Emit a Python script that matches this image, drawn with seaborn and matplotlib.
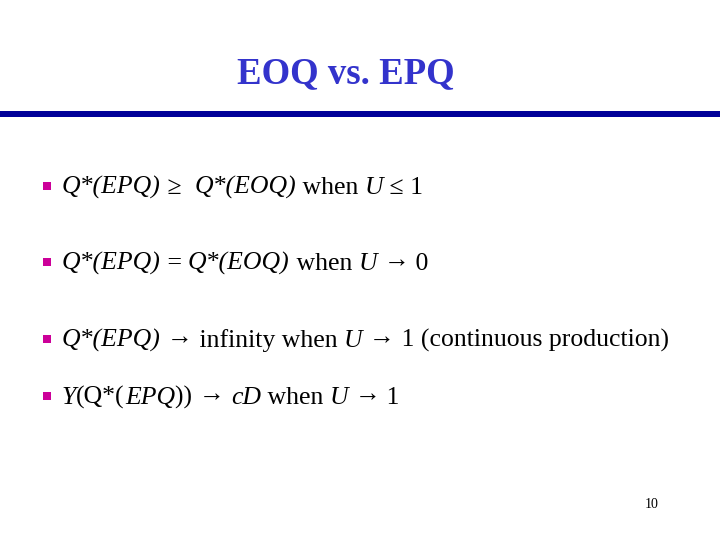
import matplotlib
matplotlib.use("Agg")
import re
import matplotlib.pyplot as plt
import seaborn as sns
from matplotlib.font_manager import FontProperties, findfont, get_font

# ---------------- slide content ----------------
title = "EOQ vs. EPQ"
slide_number = "10"

# each bullet is a list of (text, italic) pieces
bullets = [
    [("Q*(EPQ)", True), (" \u2265  ", False), ("Q*(EOQ)", True), (" when ", False),
     ("U", True), (" \u2264 1", False)],
    [("Q*(EPQ)", True), (" = ", False), ("Q*(EOQ)", True), (" when ", False),
     ("U", True), (" \u2192 0", False)],
    [("Q*(EPQ)", True), (" \u2192 infinity when ", False), ("U", True),
     (" \u2192 1 (continuous production)", False)],
    [("Y", True), ("(Q*(", False), ("EPQ", True), (")) \u2192 ", False), ("cD", True),
     (" when ", False), ("U", True), (" \u2192 1", False)],
]
bullet_baselines = [194, 270, 347, 404]

TITLE_COLOR = "#3333CC"
BAR_COLOR = "#000099"
BULLET_COLOR = "#CC0099"
ARROW = "\u2192"

sns.set_theme(style="white")
plt.rcParams["font.family"] = ["Liberation Serif", "DejaVu Serif"]

fig = plt.figure(figsize=(7.2, 5.4), dpi=100)
ax = fig.add_axes([0, 0, 1, 1])
ax.set_xlim(0, 720)
ax.set_ylim(540, 0)
ax.axis("off")

# title and rule under it
ax.text(346, 74, title, ha="center", va="center", fontsize=26.5,
        fontweight="bold", color=TITLE_COLOR)
ax.axhspan(111, 117, color=BAR_COLOR, lw=0)

body_size = 18.5
PX = body_size * 100 / 72
props = {
    False: FontProperties(family="Liberation Serif", style="normal"),
    True: FontProperties(family="Liberation Serif", style="italic"),
}


def advance(s, italic):
    # pen advance in pixels, spaces included
    font = get_font(findfont(props[italic]))
    font.set_size(PX, 72)
    return sum(font.load_char(ord(c)).linearHoriAdvance / 65536 for c in s)


for pieces, base in zip(bullets, bullet_baselines):
    x = 62
    for s, italic in pieces:
        for part in re.split("(" + ARROW + ")", s):
            if not part:
                continue
            if part.strip():
                # arrows sit a bit higher in the original (Symbol font)
                lift = 3 if part == ARROW else 0
                ax.text(x, base - lift, part, fontsize=body_size, va="baseline",
                        style="italic" if italic else "normal", color="black")
            x += advance(part, italic)

# square bullets
sns.scatterplot(x=[47] * len(bullet_baselines),
                y=[b - 8 for b in bullet_baselines],
                marker="s", s=30, color=BULLET_COLOR, linewidth=0, ax=ax)

ax.text(652, 505, slide_number, ha="center", va="center", fontsize=10, color="black")

fig.savefig("out.png", dpi=100)
